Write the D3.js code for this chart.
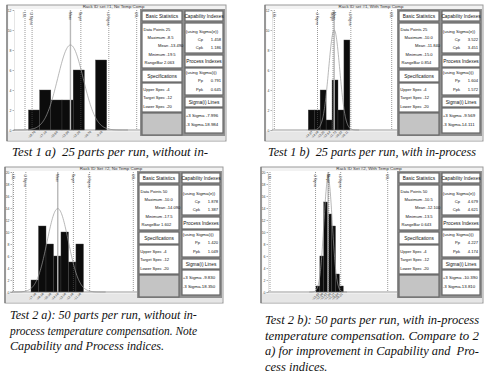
<!DOCTYPE html>
<html><head><meta charset="utf-8">
<script src="https://cdn.jsdelivr.net/npm/d3@7"></script>
<style>html,body{margin:0;padding:0;background:#fff;}svg{display:block}</style>
</head><body><svg id="c" width="485" height="373"></svg>
<script>
// ---------- data ----------
const panelTitles = ["Rack ID set #1, No Temp Comp", "Rack ID set #1, With Temp Comp",
                     "Rack ID Set #2, No Temp Comp", "Rack ID Set #2, With Temp Comp"];
const lowerSpec = -20, targetSpec = -12, upperSpec = -4;
const counts1 = [2, 4, 3, 3, 6, 0, 7];
const counts2 = [2, 2, 4, 1, 5, 2, 9];
const counts3 = [2, 11, 8, 6, 10, 5, 8];
const counts4 = [1, 6, 15, 13, 11, 3, 1];
const binStarts = [-19.5, -15.37, -17.66, -13.75];
const binWidths = [1.6, 0.81, 1.0, 0.53];
const binLabels1 = ["-18.70", "-17.10", "-15.50", "-13.90", "-12.30", "-10.70", "-9.10"];
const binLabels2 = ["-14.97", "-14.16", "-13.35", "-12.54", "-11.73", "-10.92", "-10.11"];
const binLabels3 = ["-17.16", "-16.16", "-15.16", "-14.16", "-13.16", "-12.16", "-11.16"];
const binLabels4 = ["-13.49", "-12.96", "-12.43", "-11.90", "-11.37", "-10.84", "-10.31"];
const dataPoints = ["25", "25", "50", "50"];
const maximums = ["-8.5", "-10.0", "-10.0", "-10.5"];
const means = [-13.490, -11.840, -14.090, -12.100];
const minimums = ["-19.5", "-15.0", "-17.5", "-13.5"];
const rangeBars = ["2.063", "0.854", "1.602", "0.643"];
const cpVals = ["1.458", "3.522", "1.878", "4.679"];
const cpkVals = ["1.186", "3.451", "1.387", "4.621"];
const ppVals = ["0.791", "1.604", "1.420", "4.227"];
const ppkVals = ["0.645", "1.572", "1.049", "4.174"];
const plus3Sigma = [-7.996, -9.569, -9.830, -10.390];
const minus3Sigma = [-18.984, -14.111, -18.350, -13.810];
const curvePeaks = [8.5, 10, 13.9, 19];
const yMaxes = [12, 12, 20, 20];
const caption1 = ["Test 1 a)  25 parts per run, without in-"];
const caption2 = ["Test 1 b)  25 parts per run, with in-process"];
const caption3 = ["Test 2 a): 50 parts per run, without in-", "process temperature compensation. Note",
                  "Capability and Process indices."];
const caption4 = ["Test 2 b): 50 parts per run, with in-process", "temperature compensation. Compare to 2",
                  "a) for improvement in Capability and  Pro-", "cess indices."];

const allCounts = [counts1, counts2, counts3, counts4];
const allBinLabels = [binLabels1, binLabels2, binLabels3, binLabels4];

// ---------- layout (positions only) ----------
const frames = [
  {x: 7,   y: 5,   w: 219, lsl: 18,  usl: 129.7},
  {x: 265, y: 5,   w: 218, lsl: 9.3, usl: 126.7},
  {x: 5,   y: 167, w: 218, lsl: 8.5, usl: 128.3},
  {x: 261, y: 167, w: 222, lsl: 9,   usl: 126.7}
];
const captionPos = [
  {x: 12, y: 156, lh: 15.5, w: 196, lines: caption1},
  {x: 268, y: 156, lh: 15.5, w: 208, lines: caption2},
  {x: 10, y: 319, lh: 15.5, w: 187, lines: caption3},
  {x: 265, y: 324, lh: 15.5, w: 214, lines: caption4}
];

const svg = d3.select("#c");
svg.append("rect").attr("width", 485).attr("height", 373).attr("fill", "#fff");

const SANS = "'Liberation Sans', Arial, sans-serif";

function rect(g, x0, y0, x1, y1, fill, stroke, sw) {
  return g.append("rect").attr("x", x0).attr("y", y0).attr("width", x1 - x0).attr("height", y1 - y0)
    .attr("fill", fill).attr("stroke", stroke || "none").attr("stroke-width", sw || 0);
}
function txt(g, x, y, s, size, anchor, fill) {
  return g.append("text").attr("x", x).attr("y", y).text(s)
    .attr("font-family", SANS).attr("font-size", size).attr("text-anchor", anchor || "start")
    .attr("fill", fill || "#111");
}

function drawPanel(i) {
  const f = frames[i];
  const g = svg.append("g");
  const L = f.x, T = f.y, R = f.x + f.w, B = f.y + 136;
  const plotR = R - 86;
  const base = T + 125;
  // frame
  rect(g, L, T, R, B, "#f2f2f2", "#9a9a9a", 1);
  g.append("line").attr("x1", L).attr("x2", L).attr("y1", T).attr("y2", B).attr("stroke", "#777").attr("stroke-width", 1.2);
  // plot area
  rect(g, L + 1.5, T + 4, plotR, T + 126.5, "#fff");
  // bottom strip
  rect(g, L + 1, T + 126.5, R - 1, B - 0.5, "#e6e6e6");
  // grey region behind boxes
  rect(g, plotR, T + 4, R - 1, T + 131, "#8f8f8f");
  // title
  txt(g, (L + R) / 2 - 3, T + 3.4, panelTitles[i], 4.4, "middle", "#333");

  const x = d3.scaleLinear().domain([lowerSpec, upperSpec]).range([L + f.lsl, L + f.usl]);
  const y = d3.scaleLinear().domain([0, yMaxes[i]]).range([base, base - 120]);
  const axisX = L + 7;

  // y axis
  const yAxis = d3.axisLeft(y).tickValues(d3.range(0, yMaxes[i] + 1, 2)).tickSize(1.5).tickPadding(1);
  const ya = g.append("g").attr("transform", `translate(${axisX},0)`).call(yAxis);
  ya.select(".domain").attr("stroke", "#999").attr("stroke-width", 0.5).attr("stroke-dasharray", "1,1");
  ya.selectAll(".tick line").attr("stroke", "#666").attr("stroke-width", 0.5);
  ya.selectAll("text").attr("font-size", 3.4).attr("font-family", SANS).attr("fill", "#444");

  // bars
  const counts = allCounts[i];
  const bins = counts.map((c, k) => ({c, x0: binStarts[i] + k * binWidths[i], x1: binStarts[i] + (k + 1) * binWidths[i]}));
  g.selectAll(".bar").data(bins.filter(d => d.c > 0)).enter().append("rect")
    .attr("x", d => x(d.x0)).attr("width", d => x(d.x1) - x(d.x0))
    .attr("y", d => y(d.c)).attr("height", d => base - y(d.c))
    .attr("fill", "#0c0c0c").attr("stroke", "#444").attr("stroke-width", 0.4);

  // vertical reference lines
  const refs = [
    {v: lowerSpec, lab: "LSL", solid: false},
    {v: minus3Sigma[i], lab: "-3 Sigma", solid: false},
    {v: means[i], lab: "Mean", solid: true},
    {v: targetSpec, lab: "Target", solid: false},
    {v: plus3Sigma[i], lab: "+3 Sigma", solid: false},
    {v: upperSpec, lab: "USL", solid: false}
  ];
  refs.forEach(r => {
    const xx = x(r.v);
    g.append("line").attr("x1", xx).attr("x2", xx).attr("y1", T + 5).attr("y2", base)
      .attr("stroke", r.solid ? "#b8b8b8" : "#555").attr("stroke-width", r.solid ? 1.4 : 0.6)
      .attr("stroke-dasharray", r.solid ? null : "1,1");
    g.append("text").attr("transform", `translate(${xx - 1.6},${T + 7}) rotate(90)`)
      .text(r.lab).attr("font-family", SANS).attr("font-size", 3.2).attr("fill", "#333");
  });

  // normal curve
  const sigma = (plus3Sigma[i] - minus3Sigma[i]) / 6;
  const xs = d3.range(-4.5, 4.5001, 0.05).map(t => means[i] + t * sigma);
  const line = d3.line().x(v => x(v)).y(v => y(curvePeaks[i] * Math.exp(-0.5 * Math.pow((v - means[i]) / sigma, 2))));
  g.append("path").datum(xs).attr("d", line).attr("fill", "none").attr("stroke", "#9a9a9a").attr("stroke-width", 0.7);

  // baseline
  g.append("line").attr("x1", axisX).attr("x2", plotR).attr("y1", base).attr("y2", base)
    .attr("stroke", "#555").attr("stroke-width", 0.6);

  // x tick labels
  const xAxis = d3.axisBottom(x).tickValues(bins.map(d => (d.x0 + d.x1) / 2))
    .tickFormat((d, k) => allBinLabels[i][k]).tickSize(0);
  const xa = g.append("g").attr("transform", `translate(0,${base + 1})`).call(xAxis);
  xa.select(".domain").remove();
  xa.selectAll("text").attr("font-size", 3.2).attr("font-family", SANS).attr("fill", "#333")
    .attr("text-anchor", "end").attr("dy", "0.2em").attr("transform", "rotate(-45)").attr("y", 1).attr("x", 0);

  // ---- stat boxes ----
  const bx = (x0, y0, x1, y1, fill) => rect(g, x0, T + y0, x1, T + y1, fill || "#fff", "#686868", 1.2);
  const C1 = R - 84, C1r = R - 44, C2 = R - 41, C2r = R - 3;
  bx(C1, 6, C1r, 16); bx(C1, 18, C1r, 63); bx(C1, 65, C1r, 77); bx(C1, 78, C1r, 107); bx(C1, 108, C1r, 130, "#c4c4c4");
  bx(C2, 6, C2r, 16); bx(C2, 18, C2r, 48); bx(C2, 50, C2r, 62); bx(C2, 63, C2r, 90); bx(C2, 92, C2r, 102); bx(C2, 103, C2r, 128);

  const hs = 4.8, bs = 4.1;
  txt(g, (C1 + C1r) / 2, T + 12.8, "Basic Statistics", hs, "middle");
  const stats = [["Data Points", dataPoints[i], 1.5], ["Maximum", maximums[i], 5.5], ["Mean", means[i].toFixed(3), 16],
                 ["Minimum", minimums[i], 6.5], ["RangeBar", rangeBars[i], 2.5]];
  const sy = [25.8, 33.8, 42.2, 50.5, 59.2];
  stats.forEach((s, k) => txt(g, C1 + s[2], T + sy[k], s[0] + "  " + s[1], bs));
  txt(g, (C1 + C1r) / 2, T + 73, "Specifications", hs, "middle");
  const specs = [["Upper Spec", upperSpec], ["Target Spec", targetSpec], ["Lower Spec", lowerSpec]];
  const spy = [86, 94, 102.5];
  specs.forEach((s, k) => txt(g, C1 + 1.2, T + spy[k], s[0] + "  " + s[1], bs));

  txt(g, (C2 + C2r) / 2, T + 12.8, "Capability Indexes", hs, "middle");
  txt(g, C2 + 0.8, T + 28, "(using Sigma(e))", bs + 0.3);
  txt(g, C2r - 20, T + 36, "Cp", bs, "end"); txt(g, C2r - 2, T + 36, cpVals[i], bs, "end");
  txt(g, C2r - 20, T + 44, "Cpk", bs, "end"); txt(g, C2r - 2, T + 44, cpkVals[i], bs, "end");
  txt(g, (C2 + C2r) / 2, T + 57.8, "Process Indexes", hs, "middle");
  txt(g, C2 + 0.8, T + 69, "(using Sigma(i))", bs + 0.3);
  txt(g, C2r - 20, T + 77, "Pp", bs, "end"); txt(g, C2r - 2, T + 77, ppVals[i], bs, "end");
  txt(g, C2r - 20, T + 85.5, "Ppk", bs, "end"); txt(g, C2r - 2, T + 85.5, ppkVals[i], bs, "end");
  txt(g, (C2 + C2r) / 2, T + 98.6, "Sigma(i) Lines", hs, "middle");
  txt(g, C2 + 0.8, T + 112, "+3 Sigma " + plus3Sigma[i].toFixed(3), bs + 0.3);
  txt(g, C2 + 0.8, T + 120.5, "-3 Sigma" + minus3Sigma[i].toFixed(3), bs + 0.3);
}

[0, 1, 2, 3].forEach(drawPanel);

// captions: slightly condensed Times italic (horizontal scale), justified except a paragraph's last line
captionPos.forEach(c => {
  let ratio = 1;
  c.lines.forEach((s, k) => {
    const t = svg.append("text").attr("x", 0).attr("y", 0).text(s)
      .attr("font-family", "'Liberation Serif', 'Times New Roman', serif").attr("font-style", "italic")
      .attr("font-size", 13.4).attr("fill", "#111").style("white-space", "pre");
    const natural = t.node().getComputedTextLength();
    const isLast = c.lines.length > 1 && k === c.lines.length - 1;
    if (k === 0) ratio = c.w / natural;
    const sx = isLast ? ratio : c.w / natural;
    t.attr("transform", `translate(${c.x},${c.y + k * c.lh}) scale(${sx.toFixed(4)},1)`);
  });
});
</script></body></html>
